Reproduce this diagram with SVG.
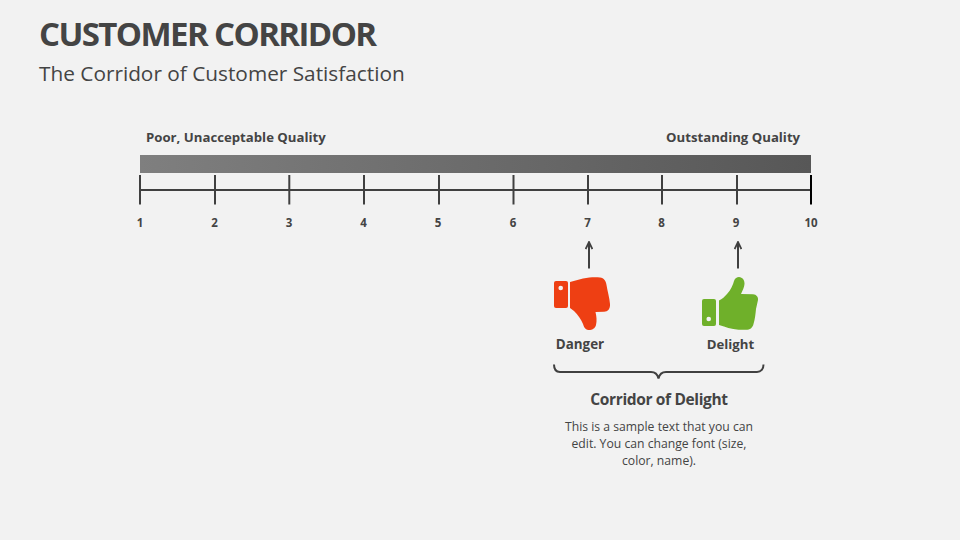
<svg xmlns="http://www.w3.org/2000/svg" width="960" height="540" viewBox="0 0 960 540">
<style>
text{font-family:"Open Sans","Noto Sans","DejaVu Sans",sans-serif;fill:#444444}
.b{font-weight:700}
.n{font-size:11.5px;font-weight:700;text-anchor:middle}
.t{stroke:#404040;stroke-width:2;fill:none}
.a{stroke:#404040;stroke-width:2;fill:none}
.m{text-anchor:middle}
</style>
<defs>
<linearGradient id="g" x1="0" x2="1" y1="0" y2="0"><stop offset="0" stop-color="#7f7f7f"/><stop offset="1" stop-color="#575757"/></linearGradient>
<marker id="ah" viewBox="0 0 10 8" refX="8.6" refY="4" markerWidth="10" markerHeight="8" markerUnits="userSpaceOnUse" orient="auto"><path d="M1.500 0.600 L8.600 4 L1.500 7.400" fill="none" stroke="#404040" stroke-width="1.800"/></marker>
</defs>
<rect width="960" height="540" fill="#f2f2f2"/>
<text id="title" class="b" x="39" y="46" font-size="33" letter-spacing="-1.600">CUSTOMER CORRIDOR</text>
<text id="subtitle" x="39" y="81" font-size="20.800">The Corridor of Customer Satisfaction</text>
<text id="label-poor" class="b" x="146" y="142" font-size="13.200">Poor, Unacceptable Quality</text>
<text id="label-outstanding" class="b" x="666" y="142" font-size="13.200">Outstanding Quality</text>
<rect id="bar" x="140" y="155" width="671" height="18" fill="url(#g)"/>
<g id="scale">
<path class="t" d="M140 190H811M140 175V204.500M215 175V204.500M289.300 175V204.500M364 175V204.500M439 175V204.500M513.500 175V204.500M588 175V204.500M662 175V204.500M737 175V204.500"/>
<path d="M811 175V204.500" stroke="#000" stroke-width="2" fill="none"/>
<text class="n" x="140" y="227">1</text>
<text class="n" x="214.500" y="227">2</text>
<text class="n" x="289" y="227">3</text>
<text class="n" x="363.500" y="227">4</text>
<text class="n" x="438" y="227">5</text>
<text class="n" x="513" y="227">6</text>
<text class="n" x="587.500" y="227">7</text>
<text class="n" x="661.500" y="227">8</text>
<text class="n" x="736" y="227">9</text>
<text class="n" x="811" y="227">10</text>
</g>
<g id="connectors">
<path class="a" d="M589 268.500V242" marker-end="url(#ah)"/>
<path class="a" d="M738 268.500V242" marker-end="url(#ah)"/>
<path class="a" d="M554 364.500C554 369 556 372 560 372H651C655 372 657.500 374 658.500 378.500C659.500 374 662 372 666 372H757C761 372 763.500 369 763.500 364.500"/>
</g>
<g id="danger">
<rect x="554" y="281" width="14" height="27" rx="2" fill="#ee3f13"/>
<circle cx="560.700" cy="288" r="2.300" fill="#f2f2f2"/>
<path fill="#ee3f13" d="M570 282L583 278.500C590 277 596 277 600 277.500C604 278 606 281 606.500 285C607.500 291 609.500 298 610 304C610.300 309 608 311.500 604 311.800L595.500 312C596.500 316 597 321 596 325C595 329 591 330.500 588 330C585 329.500 584 327 583 324C581 319 578 315 574 311L570 308Z"/>
<text class="b m" x="580" y="349" font-size="13.400">Danger</text>
</g>
<g id="delight">
<rect x="702" y="299" width="14" height="27" rx="2" fill="#6fb02a"/>
<circle cx="708.700" cy="319" r="2.300" fill="#f2f2f2"/>
<path fill="#6fb02a" d="M719 300.500C722 299 725 296.500 727 294C731 289.500 733 285 734 281C735 278 737 277 739 277C742.500 277.300 744.500 280 744.500 283.500C744.500 287 742 291.500 741 294L753 294.200C756.500 294.500 758.500 297 758 300C757.500 303 756.500 306 756 309C755.500 314 755 319 753.500 324C752.500 328 750 329.800 746 329.800C738 330 730 329 724 326.500L719 325Z"/>
<text class="b m" x="730.500" y="349" font-size="13.200">Delight</text>
</g>
<g id="corridor">
<text class="b m" x="659" y="405" font-size="15.500" letter-spacing="-0.350">Corridor of Delight</text>
<text class="m" x="659" y="431" font-size="12.200">This is a sample text that you can</text>
<text class="m" x="659" y="448" font-size="12.200">edit. You can change font (size,</text>
<text class="m" x="659" y="465" font-size="12.200">color, name).</text>
</g>
</svg>
